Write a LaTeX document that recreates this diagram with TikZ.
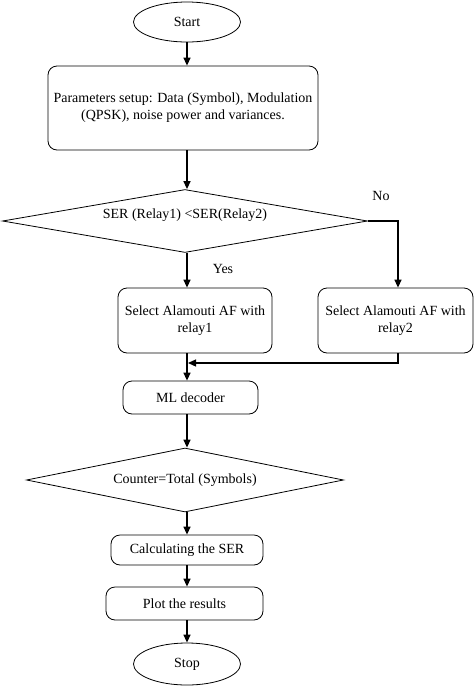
\documentclass[tikz,border=0pt]{standalone}
\usepackage{fontspec}
\setmainfont{Liberation Serif}
\usetikzlibrary{shapes.geometric,arrows.meta}
\begin{document}
\begin{tikzpicture}[x=1pt,y=-1pt,
  every node/.style={font=\fontsize{14}{17}\selectfont, align=center, inner sep=0pt},
  term/.style={ellipse, draw, line width=0.8pt, minimum width=107pt, minimum height=40pt},
  proc/.style={rectangle, rounded corners=9pt, draw, line width=0.8pt},
  dec/.style={diamond, draw, line width=0.8pt},
  arr/.style={line width=1.3pt, -{Triangle[width=7pt,length=8pt]}}]
\useasboundingbox (0,0) rectangle (474,686);
\node[term] (start) at (187,22) {Start};
\node[proc, minimum width=270pt, minimum height=84pt] (params) at (183,108)
  {Parameters setup: Data (Symbol), Modulation\\(QPSK), noise power and variances.};
\node[dec, minimum width=365pt, minimum height=63pt] (d1) at (185,221) {};
\node at (185,215) (d1t) {SER (Relay1) <SER(Relay2)};
\node[proc, minimum width=154pt, minimum height=65pt] (r1) at (195,320.5)
  {Select Alamouti AF with\\relay1};
\node[proc, minimum width=155pt, minimum height=65pt] (r2) at (395.5,320.5)
  {Select Alamouti AF with\\relay2};
\node[proc, minimum width=135pt, minimum height=33pt] (ml) at (190.5,397.5) {ML decoder};
\node[dec, minimum width=317pt, minimum height=64pt] (d2) at (185,480) {};
\node at (185,480) (d2t) {Counter=Total (Symbols)};
\node[proc, minimum width=152pt, minimum height=30pt] (calc) at (187,550) {Calculating the SER};
\node[proc, minimum width=157pt, minimum height=33pt] (plot) at (184.5,603.5) {Plot the results};
\node[term, minimum height=42pt] (stop) at (187,664) {Stop};
\node (no) at (381,196) {No};
\node (yes) at (223,269) {Yes};
\coordinate (merge) at (188,363);
\coordinate (rx) at (398,0);
\draw[arr] (start.south) -- (params.north -| start.south);
\draw[arr] (params.south -| start.south) -- (d1.north -| start.south);
\draw[arr] (d1.south -| start.south) -- (r1.north -| start.south);
\draw[arr] (d1.east) -| (rx |- r2.north);
\draw[arr] (r1.south -| start.south) -- (ml.north -| start.south);
\draw[arr] (rx |- r2.south) |- (merge);
\draw[arr] (ml.south -| start.south) -- (d2.north -| start.south);
\draw[arr] (d2.south -| start.south) -- (calc.north -| start.south);
\draw[arr] (calc.south -| start.south) -- (plot.north -| start.south);
\draw[arr] (plot.south -| start.south) -- (stop.north);
\end{tikzpicture}
\end{document}
